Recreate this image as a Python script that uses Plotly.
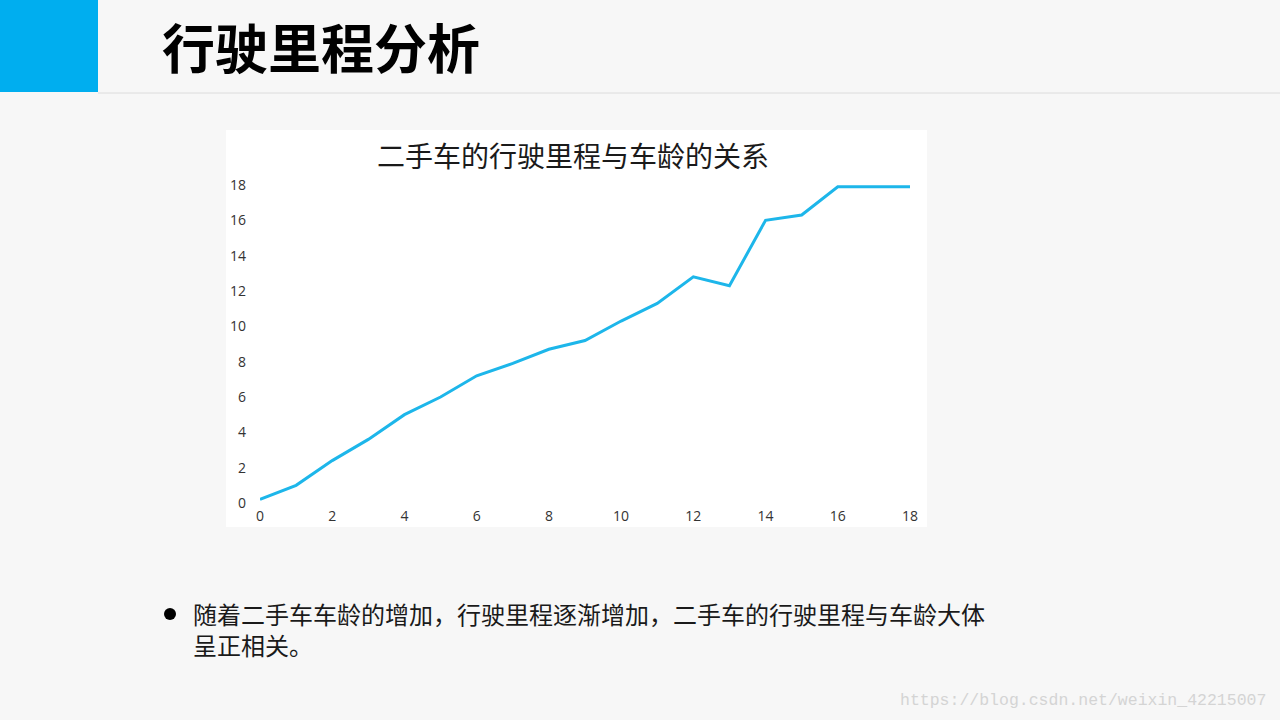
import plotly.graph_objects as go

# 车龄 (年) 与 行驶里程 (万公里)
car_age = list(range(19))
mileage = [0.2, 1.0, 2.4, 3.6, 5.0, 6.0, 7.2, 7.9, 8.7, 9.2,
           10.3, 11.3, 12.8, 12.3, 16.0, 16.3, 17.9, 17.9, 17.9]
tick_vals = list(range(0, 19, 2))

W, H = 1280, 720
BG = "#f7f7f7"
BLUE = "#00aeef"
LINE = "#1db6ea"
CJK = "Noto Sans CJK SC"


def px(x):
    return x / W


def py(y):
    return 1 - y / H


fig = go.Figure(go.Scatter(
    x=car_age, y=mileage, mode="lines",
    line=dict(color=LINE, width=3),
    hoverinfo="skip", showlegend=False,
))

axis_font = dict(family="Open Sans", size=14, color="#333333")

fig.update_layout(
    width=W, height=H,
    margin=dict(l=0, r=0, t=0, b=0, autoexpand=False),
    paper_bgcolor=BG,
    plot_bgcolor="rgba(0,0,0,0)",
    xaxis=dict(domain=[px(260), px(910)], range=[0, 18],
               tickvals=tick_vals, showgrid=False, zeroline=False,
               showline=False, ticks="", tickfont=axis_font,
               ticklabelstandoff=3, fixedrange=True),
    yaxis=dict(domain=[py(503), py(185)], range=[0, 18],
               tickvals=tick_vals, showgrid=False, zeroline=False,
               showline=False, ticks="", tickfont=axis_font,
               ticklabelstandoff=13, fixedrange=True),
    shapes=[
        # 白色图表底框
        dict(type="rect", xref="paper", yref="paper", layer="below",
             x0=px(226), x1=px(927), y0=py(527), y1=py(130),
             fillcolor="white", line=dict(width=0)),
        # 左上角蓝色块
        dict(type="rect", xref="paper", yref="paper",
             x0=0, x1=px(98), y0=py(92), y1=1,
             fillcolor=BLUE, line=dict(width=0)),
        # 标题下分隔线
        dict(type="line", xref="paper", yref="paper",
             x0=px(98), x1=1, y0=py(93), y1=py(93),
             line=dict(color="#dcdcdc", width=1)),
        # 项目符号
        dict(type="circle", xref="paper", yref="paper",
             x0=px(164), x1=px(176), y0=py(620), y1=py(608),
             fillcolor="black", line=dict(width=0)),
    ],
    annotations=[
        dict(text="<b>行驶里程分析</b>", x=px(160), y=py(46),
             xref="paper", yref="paper", xanchor="left", yanchor="middle",
             showarrow=False, font=dict(family=CJK, size=53, color="black")),
        dict(text="二手车的行驶里程与车龄的关系", x=px(573), y=py(155),
             xref="paper", yref="paper", xanchor="center", yanchor="middle",
             showarrow=False, font=dict(family=CJK, size=28, color="#1a1a1a")),
        dict(text="随着二手车车龄的增加，行驶里程逐渐增加，二手车的行驶里程与车龄大体"
                  "<br>呈正相关。",
             x=px(191), y=py(629), xref="paper", yref="paper",
             xanchor="left", yanchor="middle", align="left", showarrow=False,
             font=dict(family=CJK, size=24, color="#1a1a1a")),
        dict(text="https://blog.csdn.net/weixin_42215007", x=px(1268), y=py(700),
             xref="paper", yref="paper", xanchor="right", yanchor="middle",
             showarrow=False,
             font=dict(family="Liberation Mono", size=16.5, color="#d4d4d4")),
    ],
)

fig.write_html(
    "out.html",
    config={"displayModeBar": False},
    post_script="document.body.style.margin='0';"
                "document.body.style.overflow='hidden';",
)
